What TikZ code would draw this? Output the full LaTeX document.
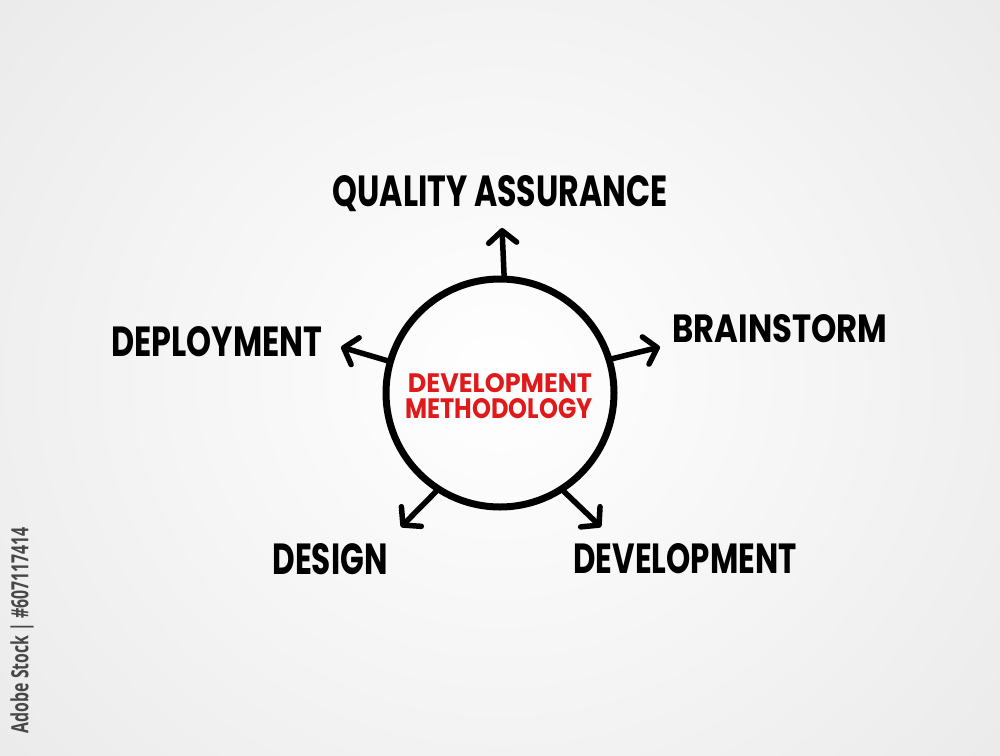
\documentclass[tikz,border=0pt]{standalone}
\usepackage{fontspec}
\usepackage{graphicx}
\setmainfont{Poppins}
\newfontfamily\wmfont{Open Sans}
\usetikzlibrary{arrows.meta}
\definecolor{markred}{HTML}{E0191B}
\definecolor{bgedge}{HTML}{E6E6E6}
\tikzset{
  ink/.style={line width=7pt, line cap=round, line join=round, black},
  spoke/.style={line width=5.5pt, line cap=round, black, -{Straight Barb[length=12pt,width=28pt,line width=5.5pt,round]}},
  lbl/.style={inner sep=0pt, font=\bfseries, text=black},
  centerlbl/.style={inner sep=0pt, font=\bfseries, text=markred},
}
\newcommand{\fitw}[3]{\resizebox{#1pt}{#2pt}{#3}}
\begin{document}
\begin{tikzpicture}[x=1pt,y=-1pt]
  % background
  \useasboundingbox (0,0) rectangle (1000,755);
  \shade[inner color=white, outer color=bgedge] (-300,-360) rectangle (1300,1115);
  \path[use as bounding box] (0,0) rectangle (1000,755);

  % watermark caption
  \node[rotate=90, inner sep=0pt, text=black!72, font=\wmfont\bfseries] (wm) at (22,630) {\fitw{206}{18}{Adobe Stock | \#607117414}};

  % centre circle
  \node[ink, circle, draw, minimum size=228pt, inner sep=0pt] (hub) at (500,393) {};
  \node[centerlbl] (t1) at (500,383) {\fitw{184}{19}{DEVELOPMENT}};
  \node[centerlbl] (t2) at (499,409) {\fitw{187}{20}{METHODOLOGY}};

  % labels
  \node[lbl] (qa) at (500,194) {\fitw{335}{31}{QUALITY ASSURANCE}};
  \node[lbl] (bs) at (780,329) {\fitw{215}{28}{BRAINSTORM}};
  \node[lbl] (dp) at (217,342) {\fitw{211}{30}{DEPLOYMENT}};
  \node[lbl] (ds) at (330,559) {\fitw{115}{31}{DESIGN}};
  \node[lbl] (dv) at (685,559) {\fitw{223}{30}{DEVELOPMENT}};

  % arrow end points
  \coordinate (aqa) at (502,228);
  \coordinate (abs) at (660,347);
  \coordinate (adp) at (341,347);
  \coordinate (ads) at (401,527);
  \coordinate (adv) at (601,527);

  % spokes
  \draw[spoke] (hub.88) -- (aqa);
  \draw[spoke] (hub.17) -- (abs);
  \draw[spoke] (hub.164) -- (adp);
  \draw[spoke] (hub.-123) -- (ads);
  \draw[spoke] (hub.-57) -- (adv);
\end{tikzpicture}
\end{document}
